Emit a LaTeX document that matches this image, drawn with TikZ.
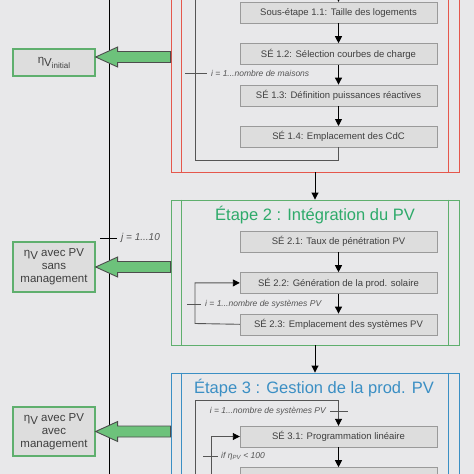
\documentclass[tikz,border=0pt]{standalone}
\usepackage{fontspec}
\setmainfont{Liberation Sans}
\usetikzlibrary{positioning, arrows.meta, shadows}

\definecolor{fond}{HTML}{E8E8EA}
\definecolor{rouge}{HTML}{E5574C}
\definecolor{vert}{HTML}{5FAF6E}
\definecolor{vertclair}{HTML}{6DC27B}
\definecolor{verttitre}{HTML}{2EAA6A}
\definecolor{bleu}{HTML}{3B8FC4}
\definecolor{gristexte}{HTML}{3F3F3F}
\definecolor{grisboite}{HTML}{DDDDDD}
\definecolor{grisbord}{HTML}{9A9A9A}
\definecolor{grisboucle}{HTML}{555555}

\begin{document}
\begin{tikzpicture}[x=1pt, y=-1pt,
      sebox/.style={draw=grisbord, fill=grisboite, text=gristexte, inner sep=0pt,
                    minimum width=197pt, minimum height=21pt,
                    font=\fontsize{9.5}{11}\selectfont,
                    drop shadow={shadow xshift=0.8pt, shadow yshift=-0.8pt, opacity=0.35}},
      etape/.style={draw=#1, line width=0.9pt, minimum width=288pt, inner sep=0pt},
      titre/.style={font=\fontsize{16.5}{18}\selectfont, text=#1},
      res/.style={draw=vert, line width=1.3pt, fill=grisboite, text=gristexte,
                  minimum width=82pt, align=center, inner sep=1pt,
                  font=\fontsize{11.5}{13}\selectfont},
      arr/.style={-{Triangle[length=7pt, width=7pt]}, line width=0.9pt},
      boucle/.style={draw=grisboucle, line width=0.9pt},
      barr/.style={boucle, -{Triangle[length=7pt, width=7pt, black]}},
      indice/.style={font=\fontsize{8.5}{9}\selectfont\itshape, text=grisboucle, inner sep=1pt},
      trait/.style={line width=0.9pt},
      fleche/.style={draw=black!70, fill=vertclair, line width=0.9pt},
      node distance=20pt,
]
\fill[fond] (0,0) rectangle (474,474);
\useasboundingbox (0,0) rectangle (474,474);
\clip (0,0) rectangle (474,474);

% etapes
\node[etape=rouge, minimum height=242pt] (et1) at (315,51) {};
\node[etape=vert, minimum height=145pt] (et2) at (315,272.5) {};
\node[etape=bleu, minimum height=187pt] (et3) at (315,466.5) {};
\foreach \eb/\cb in {et1/rouge, et2/vert, et3/bleu} {
      \draw[\cb, line width=0.9pt] ([xshift=11pt]\eb.north west) -- ([xshift=11pt]\eb.south west)
            ([xshift=-11pt]\eb.north east) -- ([xshift=-11pt]\eb.south east);
}
\node[titre=verttitre] (tit2) at (315,215) {Étape 2 : Intégration du PV};
\node[titre=bleu] (tit3) at (314,388) {Étape 3 : Gestion de la prod. PV};

% sous-etapes
\node[sebox] (se11) at (338.5,12.5) {Sous-étape 1.1: Taille des logements};
\node[sebox, below=of se11] (se12) {SÉ 1.2: Sélection courbes de charge};
\node[sebox, below=of se12] (se13) {SÉ 1.3: Définition puissances réactives};
\node[sebox, below=of se13] (se14) {SÉ 1.4: Emplacement des CdC};
\node[sebox] (se21) at (338.5,241.5) {SÉ 2.1: Taux de pénétration PV};
\node[sebox, below=of se21] (se22) {SÉ 2.2: Génération de la prod. solaire};
\node[sebox, below=of se22] (se23) {SÉ 2.3: Emplacement des systèmes PV};
\node[sebox] (se31) at (338.5,436.5) {SÉ 3.1: Programmation linéaire};
\node[sebox, below=of se31] (se32) {};

\draw[arr] (et1.south) -- (et2.north);
\draw[arr] (et2.south) -- (et3.north);
\draw[arr] (se11) -- (se12);
\draw[arr] (se12) -- (se13);
\draw[arr] (se13) -- (se14);
\draw[arr] (se21) -- (se22);
\draw[arr] (se22) -- (se23);
\draw[arr] (se31) -- (se32);

% boucles
\draw[barr] (se14.south) -- ++(0,13) -| (195,-12) -| (se11.north);
\draw[boucle] (185,73) -- (207,73);
\node[indice, anchor=west] (ind1) at (210,73) {i = 1...nombre de maisons};

\draw[barr] (se23.west) -- (195,323.5) |- (se22.west);
\draw[boucle] (187,304) -- (201,304);
\node[indice, anchor=west] (ind2) at (204,304) {i = 1...nombre de systèmes PV};

\draw[barr] (195,480) |- ([yshift=25pt]se31.north) -- (se31.north);
\draw[boucle] (330,411) -- (348,411);
\node[indice, anchor=east] (ind3) at (327,411) {i = 1...nombre de systèmes PV};

\draw[barr] (211,480) |- (se31.west);
\draw[boucle] (203,456) -- (218,456);
\node[indice, anchor=west] (ind4) at (220,456) {if η\textsubscript{PV} < 100};

% axe et resultats
\coordinate (axh) at (109,0);
\coordinate (axb) at (109,474);
\draw[line width=1pt] (axh) -- (axb);
\draw[trait] (100,238) -- (117,238);
\node[indice, font=\fontsize{10}{11}\selectfont\itshape, anchor=west] (indj) at (120,238) {j = 1...10};

\node[res, minimum height=27pt] (res1) at (54,62.5)
      {η\raisebox{-3pt}{V\raisebox{-2pt}{\fontsize{8}{8}\selectfont initial}}};
\node[res, minimum height=50pt] (res2) at (54,267) {η\raisebox{-3pt}{V} avec PV\\sans\\management};
\node[res, minimum height=49pt] (res3) at (54,431.5) {η\raisebox{-3pt}{V} avec PV\\avec\\management};

\foreach \rb/\eb/\yb in {res1/et1/57, res2/et2/267, res3/et3/431.5} {
      \coordinate (pt) at (\rb.east |- 0,\yb);
      \coordinate (bs) at (\eb.west |- 0,\yb);
      \draw[fleche] (pt) -- ([shift={(22,-10)}]pt) -- ([shift={(22,-5.5)}]pt)
            -- ([shift={(0,-5.5)}]bs) -- ([shift={(0,5.5)}]bs)
            -- ([shift={(22,5.5)}]pt) -- ([shift={(22,10)}]pt) -- cycle;
}
\end{tikzpicture}
\end{document}
